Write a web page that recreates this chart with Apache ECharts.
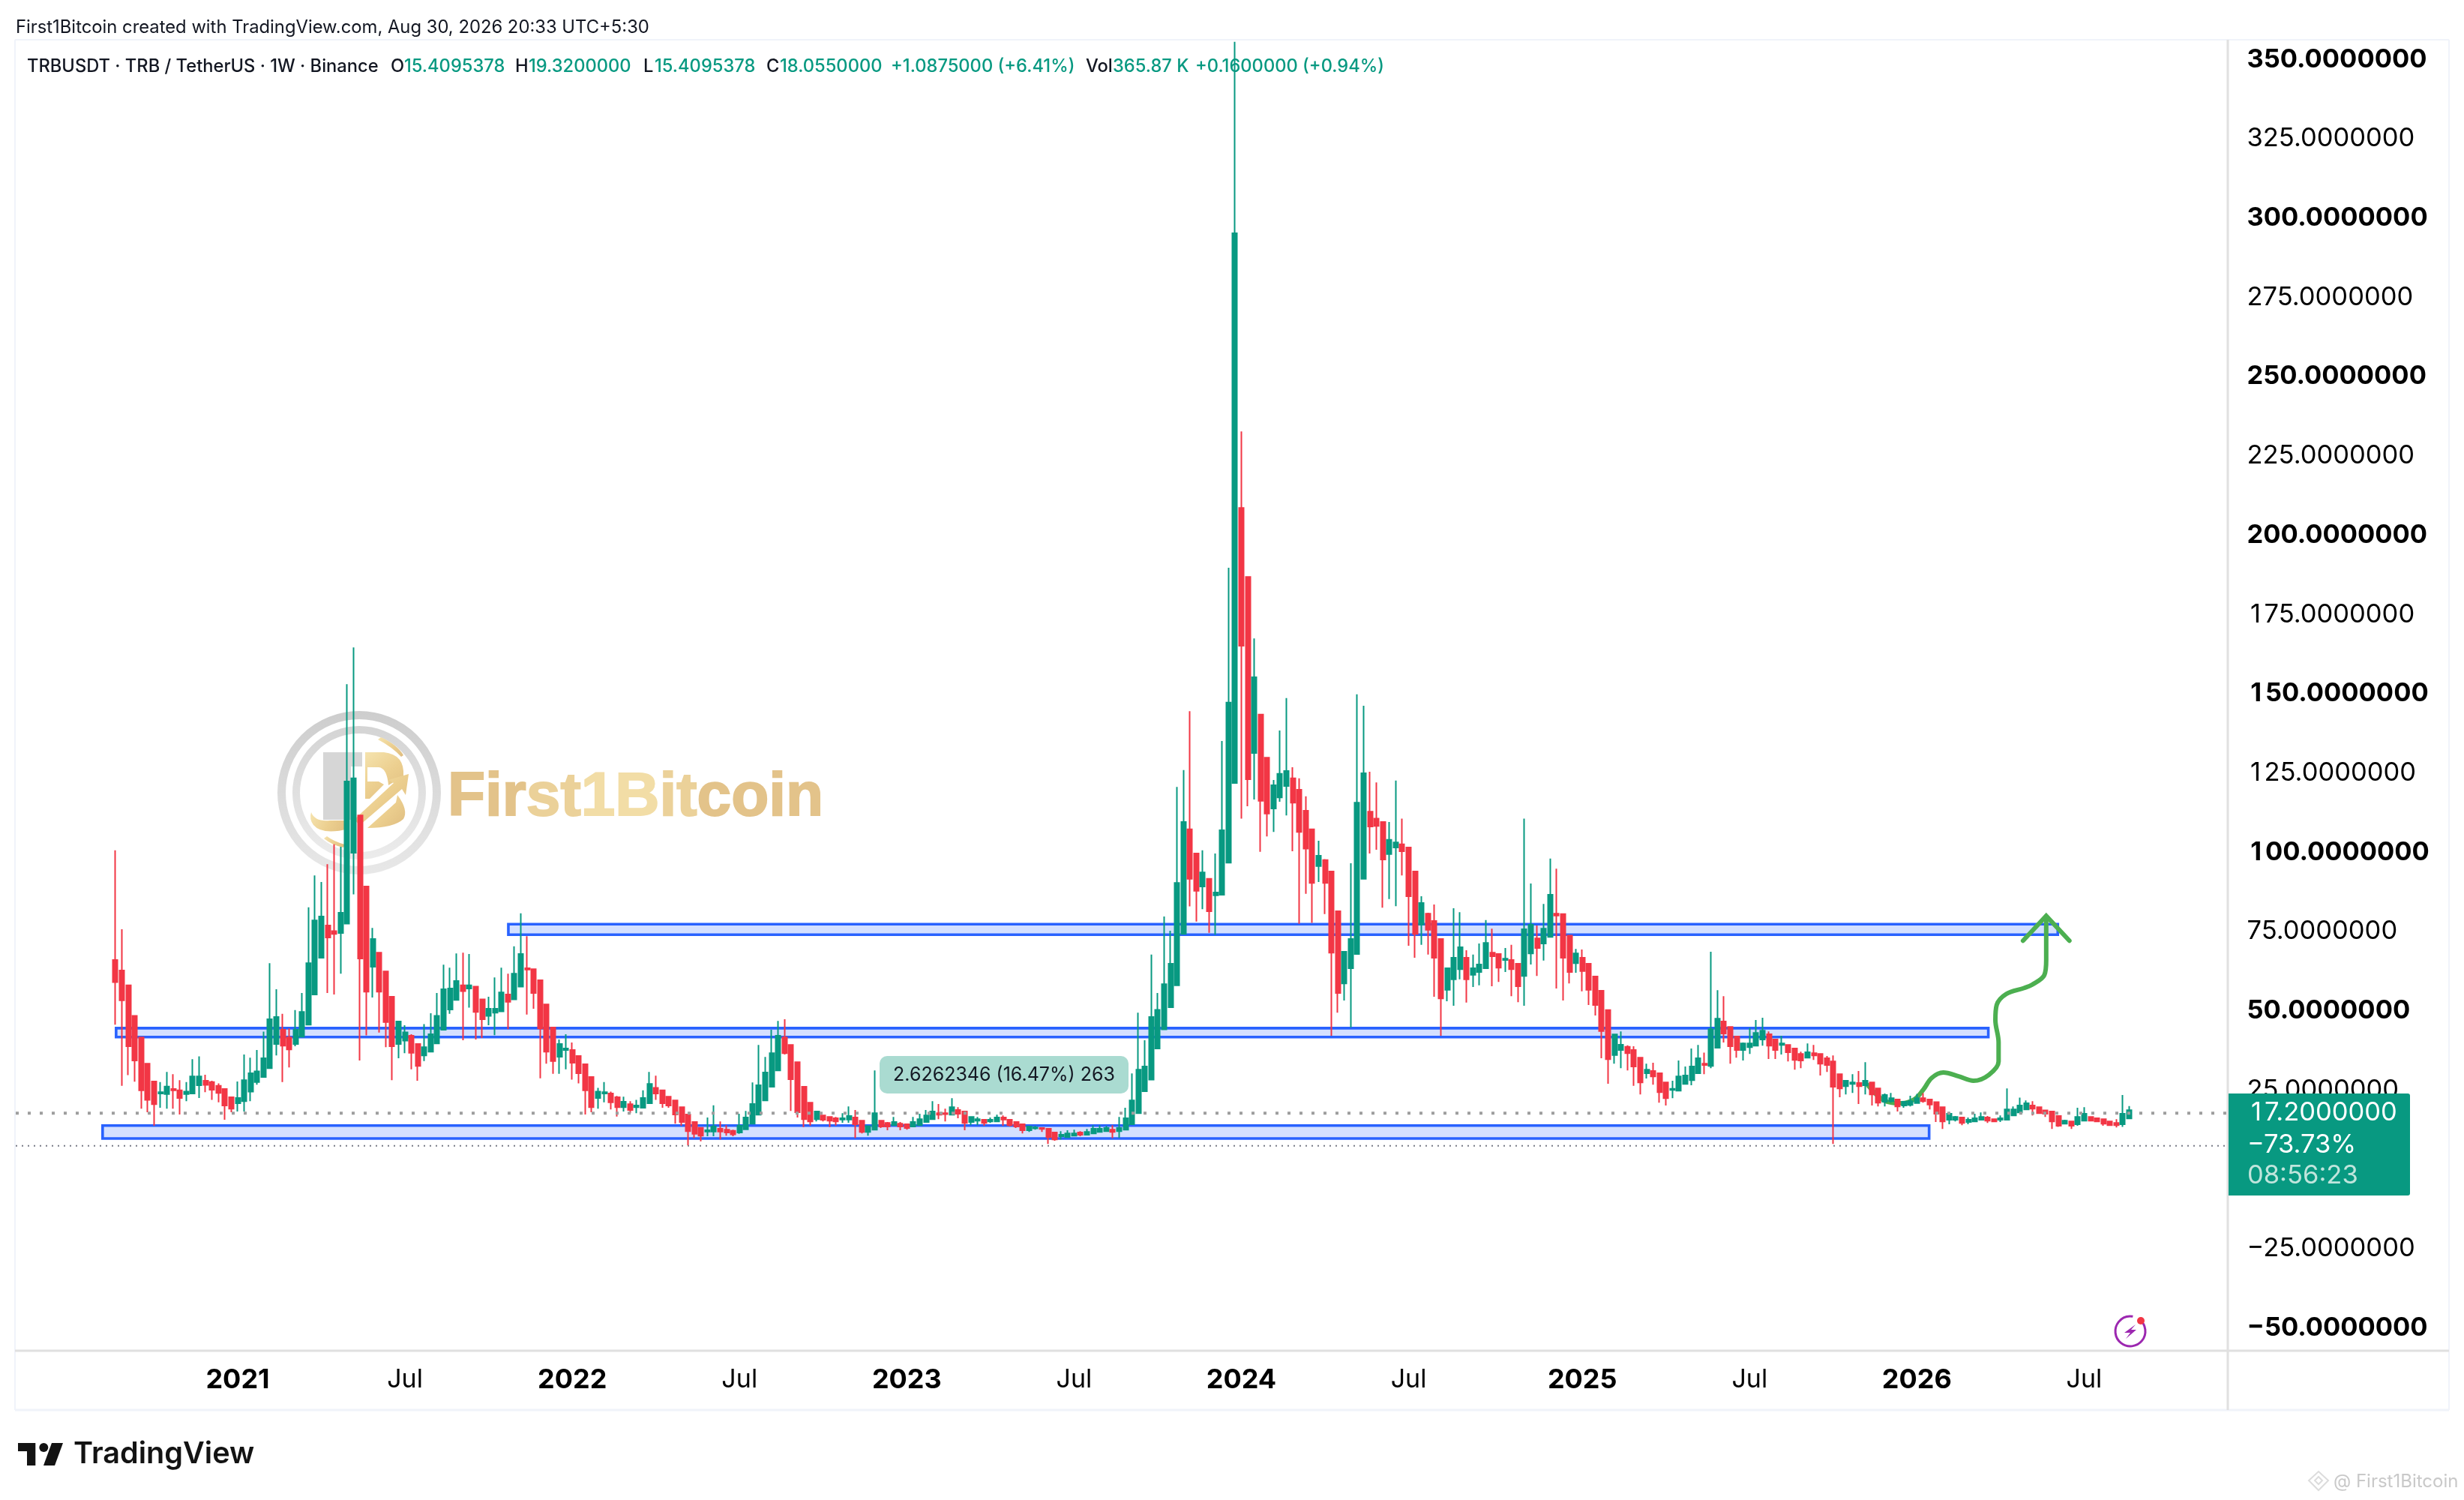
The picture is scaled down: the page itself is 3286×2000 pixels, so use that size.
<!DOCTYPE html>
<html><head><meta charset="utf-8">
<style>html,body{margin:0;padding:0;background:#fff}#c{width:3286px;height:2000px}</style>
<script src="https://cdn.jsdelivr.net/npm/echarts@6/dist/echarts.min.js"></script>
</head><body><div id="c"></div>
<script>
const opens=[65.4,62.1,57.4,47.8,41,32.7,27.1,23.3,23.1,24.7,
24.3,23.1,23.3,25.9,27.3,26.9,25.7,24.7,22.1,20.2,
20.9,23.9,26.9,28.5,31.3,38.9,43.4,41,38.9,41.2,
45,54.5,66.1,76.3,74.5,73.9,76.9,99.2,111,88.6,
63.3,67.7,61.8,53.8,38.9,40,41.5,38.9,35.3,36.5,
39.1,43.4,49.8,52.8,57.4,56.4,57,53,47.8,48.8,
49.2,54.5,53,57,62.8,62.5,59,51.4,44.1,34.9,
37,37,35.1,32.5,28.5,21.9,23.3,23.3,22.1,19,
19.9,19,18.8,20.2,25.1,24.3,22.3,21.1,19,16.7,
14.3,12.5,11.3,11.3,12.2,11.9,11.5,11,12,13.8,
16.6,21.1,25.4,30.6,41,38.6,33.2,25.4,20.4,15.2,
16.4,15.9,15.5,15.1,15.1,15.7,14.7,11.2,11.9,14.7,
14,13.3,13.8,13.6,12.9,13.3,14.3,15.2,17.1,17.1,
16.6,18.1,17.6,14.3,14.7,15,14.5,14.5,15.7,15,
14.3,13.6,11.7,12.3,12.4,12.2,11,9.8,9.5,10,
11,10.3,10.7,11.2,11.4,11.9,11.4,11.9,13.6,17.1,
24,27.7,37.5,43.5,50.5,57.4,73.6,106.6,99,88.6,
91,85.8,86,96.1,121.2,208,186.2,130.7,142.8,129.2,
113.2,116.7,120.3,122.7,119.1,112.5,106.6,95,96.9,93.3,
80.8,58,62.8,67.3,91,112.2,110,108.9,98.8,100.9,
101.9,100.9,93.3,76.6,80,77.7,72,56,59.3,62.5,
66.1,60.7,61.6,62.8,67.7,67.3,65.4,65.4,64.2,60.4,
67.5,72.2,70.6,72.7,80,79.9,73.1,64.4,66.1,64.2,
60.2,55.7,49.6,35.4,37,38,37,34.6,29.7,30.4,
29.7,26.8,24.4,24.2,26.3,27.5,29.7,32.7,32,37.7,
46,44.3,41.3,37,37.9,38.4,40.3,42,40.3,38.6,
38.6,37.5,35.8,34.6,36,35.8,34.4,33.4,29.4,25.6,
26.3,26.6,25.9,26.8,24.9,20.7,20.9,21.4,19.5,19.7,
20.3,21.8,21.4,20.6,19,15,15,15.7,14.3,14.5,
15,15.7,15.2,15,15,16.4,17.3,18.3,19.5,19,
18,17.6,16.2,13.8,14.5,13.6,14.7,15.9,15.5,15.2,
14.5,14,13.6,15.41];
const closes=[58.4,52.7,38.2,33.7,24.3,21.3,19.9,23.7,25.5,24.3,
21.9,23.9,28.7,28.7,26,24.5,23.5,19.5,18.5,21.9,
27.5,29.7,30.3,34.4,46.7,47.4,38.4,37.2,43.4,49,
64.4,77.9,79.1,72.5,73.6,80.3,121.7,122.7,65.9,55.4,
72,55.4,45.8,38.2,46,42.6,36.1,32,37.9,42,
47.8,56.2,56.4,58.8,55.6,57.4,49,46.7,50,50,
55.2,52.2,61.1,67.3,62.4,55,43.8,36.5,33.5,38.9,
37.5,33,29.7,24.3,19,23.9,23.7,20.5,19,20.7,
18.1,19.5,21.9,26.3,23.3,20.2,19.5,16.7,14.3,11.4,
10.6,10,11.7,12.9,11.3,11,10.4,13.1,15.7,20,
25.9,29.9,36,41.5,36,27.8,17.4,15.2,14.5,17.6,
15,14.7,14.5,15.5,16.2,13.6,11.2,13,17.1,12.9,
12.9,14.3,12.9,12.4,14.3,15.2,16.4,17.6,16.6,16.8,
19,16.9,14,15.9,15.2,14,15,15.7,15.1,13.3,
12.9,11.7,12.9,12.6,12.1,9.5,8.8,10.3,10.7,10.7,
10.3,11.2,12.2,12.2,12.4,11.2,12.4,15.5,21.1,30.8,
31.8,47.4,49.7,57.8,64.2,89.7,108.9,91,87.2,93,
80.8,86.7,106.3,146.6,294.6,164.5,122.4,154.6,115.6,111.6,
120.5,124.1,125,115,105.8,100.5,89.7,98.3,89.7,67.7,
55,68,72,115,124.3,107.5,107.7,97.1,103.3,102.5,
99.7,85.5,73.6,83.4,74.9,66.1,53.3,62.8,66.1,69.4,
59.3,62.8,64,70.8,66.6,63,65.8,62.5,57.1,75.1,
76.5,69.2,75.3,86,79.4,66.1,61.6,67.5,61.9,56,
51.2,43,34.1,41.9,38.7,36,31.8,26.8,30.8,28.7,
23.7,21.8,24.8,28.7,29,31.8,34.4,32.3,43.6,46.9,
42.2,38.2,37,39.1,39.1,42.4,43.1,38.4,37,39.1,
36.3,33.9,33.7,36.3,35.3,32.7,32.3,25.4,24.9,27.3,
26.8,25.6,27.3,23,20.4,22.8,21.8,19.2,20.7,20.9,
21.8,20.9,19.8,16.9,14.5,16.9,15.9,14,15,15.5,
15.9,14.7,14.5,15.5,18.3,18.3,19.5,20.2,18.5,17.1,
16.9,14.5,13.1,14.7,13.1,15.9,16.9,14.7,14.5,13.8,
13.3,13.3,16.9,18.06];
const highs=[100,75.1,57.4,47.8,41,32.7,27.1,26.9,30.1,29.4,
27.5,26.9,34.1,35,29.2,27.3,26.5,24.7,22.1,27.1,
35.6,34.6,37,42.8,64.4,56.2,48.4,43.8,49.6,55,
82,92.1,90,95.6,101.9,101.1,152.4,164,111,88.6,
75.5,67.7,61.8,53.8,46,44.8,42,38.9,45.2,48.6,
55,63.9,63,67.5,67.7,67.3,57,53,53.8,59.9,
63,61.1,69.7,80.1,72.9,62.5,59,51.4,44.1,40.3,
42,39.4,35.1,32.5,28.5,25.1,26.9,23.9,22.5,22.3,
20.9,21.3,24.3,30.1,28.9,24.3,22.3,21.1,19,16.7,
14.3,12.5,15.7,19.6,14.5,13.3,11.9,16.9,17.8,26.8,
38.6,34.8,43.4,46.2,46.7,38.6,33.2,25.4,20.4,17.6,
16.4,15.9,15.9,17.1,19.2,18.1,14.7,13,30.6,14.7,
14.3,15.9,14.3,13.6,15.9,16.9,18.1,20.9,20,18.5,
21.8,19,17.6,15.9,15.9,15.2,15.7,16.6,16.4,15,
14.3,13.6,12.9,13.1,12.4,12.2,11,11.4,11.7,11.9,
11.4,12.1,13.3,13.3,13.1,13.3,15.9,18.8,29.6,48.8,
40.1,67.1,55,79.1,74.6,120,125.3,143.9,99,100,
91,99,134.5,189.1,355,232.1,186.2,166.8,142.8,129.2,
122.2,137.8,148,126.2,122.7,117,106.6,103,97.2,93.3,
80.8,68,95.9,149.2,145.6,124.8,121.4,109.1,108.9,122,
110,100.9,93.3,85.5,80.3,82.9,72,62.8,81.7,80.5,
68.5,67.1,70.6,78,75.3,67.3,69.2,70.2,64.2,110,
89.5,76.3,83.1,97.4,94.2,79.9,73.1,68.9,68.7,64.2,
60.2,55.7,49.6,41.9,42.9,38.5,38.2,34.6,32.7,33,
29.7,26.8,27.3,33.7,31.8,37.5,38.6,36.2,68,55.9,
54,44.3,41.3,39.4,44,46.5,47.2,42.9,40.3,41.5,
38.6,37.5,36.5,39.1,38.6,35.8,35.1,35.3,29.4,27.5,
29.4,30.4,33.2,27,24.9,23.3,23.5,21.4,20.9,22.6,
23.2,23.4,21.4,20.6,19,16.9,16.2,15.7,15.7,16.9,
17.3,16.2,15.2,16.4,24.9,19.2,22,21.1,20.9,19,
18,17.6,16.2,15,14.5,18.8,19,15.9,15.5,15.2,
14.5,15.2,22.8,19.32];
const lows=[45,25.7,29.1,27,18.5,17.4,13.1,18.8,18.5,18.5,
16.7,20.9,23.3,21.9,23.7,21.3,20.5,15,17.4,17.6,
17.6,20.9,26.1,28.5,31.3,35.3,26.9,31.5,38.2,41.2,
45,54.5,66.1,55,54.5,61.1,76.9,86.1,33.7,41.6,
53.6,42.5,37.9,27.5,34.4,36,30.9,27.3,33.5,36.5,
39.1,43.4,48.4,52.8,40.1,50.4,40.3,40.8,44.8,41.7,
49.2,43.6,53,57,48.2,50,28.1,32.7,29.5,29.5,
30.9,27.7,26.5,16.7,17.4,18.5,20.5,18.3,16,17.6,
17.1,17.1,18.8,20.2,21.3,18.8,18.8,13.8,13.1,6.9,
9.2,8.2,9.8,9.8,8.8,10,9.8,10.6,12,13.8,
16.6,21.1,25.4,30.6,35.6,17.8,15.7,12.7,13.2,14.5,
14.5,12.7,13.2,14.1,14.1,9.2,10.7,10,11.9,12.4,
11.7,13.3,11.7,11.9,12.9,13.3,14.3,15.2,15.2,14.5,
16.6,15.5,11.7,13.3,13.3,13.1,14,14.5,13.1,12.9,
12.4,10.7,11.2,11.9,11.2,7.4,8.4,8.8,9.5,10,
9.8,10.3,10.7,11.2,11.2,9.2,9.3,11.9,13.6,17.1,
24,27.7,37.5,43.5,50.5,57.4,73.6,82.3,77.5,81.4,
74,73.3,86,96.1,121.2,110,113.9,116,99.5,104.4,
105.8,115.3,111,99.7,76.8,86.3,77.1,90,79.9,41.5,
48.8,52.6,44.1,67.3,91,99,100.2,81.9,84.6,82.4,
92.1,69.9,66.1,70.2,67.1,53.8,41.5,52.4,51,59.3,
52,56.9,57.4,62.8,57.1,58.5,61.6,54,52.1,51,
64,60.4,65.2,72.5,56.4,52.6,58,61.4,55.5,51.2,
47.9,34.4,26.4,32.7,31.3,30.6,25.7,23,28,26.1,
20.4,19.5,21.8,24.2,26.3,25.9,29.7,29.4,31.3,37.7,
39.4,32.7,34.6,33.7,35.8,38.4,38.4,34.2,34.2,35.6,
33.4,30.8,31.3,34.6,33.9,29,30.1,7.4,22.1,23,
23.5,20,23,19.5,19.2,19.2,20.4,17.6,18.8,19.2,
20.3,20.4,18.3,14.3,12.1,13.6,14.5,13.3,13.6,14.5,
15,14,14.3,14.3,15,16.4,17.1,18.3,16.4,16.9,
15.9,12.1,12.8,13.6,12.1,13.1,14.5,14.5,14.3,13.1,
13.1,12.6,12.8,15.41];
const tickWeeks=[19,45,71,97,123,149,175,201,228,254,280,306];
const tickLabels=['2021','Jul','2022','Jul','2023','Jul','2024','Jul','2025','Jul','2026','Jul'];
const priceTicks=[350,325,300,275,250,225,200,175,150,125,100,75,50,25,0,-25,-50];
const zoneBoxes=[[61.07,301.9,76.7,73.4],[0.1,291.1,43.9,41.1],[-2,281.9,13.2,9.1]];
const pathWeeks=[272.4,274.9,277.6,279.7,281,282.3,284.1,286.5,288.8,291.2,292.7,292.7,292.2,292.4,293.9,296.7,297.9,299.8,300.1,300.1];
const pathPrices=[25.9,21.1,20.2,21.6,24.5,28.2,29.9,28.7,27.3,29.2,33.4,39.4,46.5,51.2,54.7,56.6,57.6,60.6,65.4,79.1];
const headWeeks=[296.5,300.1,303.7];
const headPrices=[71.5,79.3,71.5];
const lastPrice=17.1, lowLevel=6.8;

const PAD_LEFT=15, BAND_COUNT=344;
const F='Inter';
const GREEN='#089981', RED='#f23645';
const categories=Array.from({length:BAND_COUNT},(_,i)=>String(i-PAD_LEFT));
const candleRows=opens.map((o,i)=>[i+PAD_LEFT,o,closes[i],lows[i],highs[i]]);

let shapeId=0;
const pathEl=(d,style,z)=>{const name='wmShape'+(shapeId++);echarts.graphic.registerShape(name,echarts.graphic.extendPath(d,{}));
  return {type:name,silent:true,z:z||0,style};};
const line=(x1,y1,x2,y2,c,w,z)=>({type:'line',silent:true,z:z||1,shape:{x1,y1,x2,y2},style:{stroke:c,lineWidth:w}});
const txt=(x,y,t,fill,font,extra)=>({type:'text',silent:true,z:50,x,y,style:Object.assign({text:t,fill,font,textVerticalAlign:'middle'},extra||{})});
const LF='500 23.7px '+F;
const gold={type:'linear',x:0,y:0,x2:1,y2:1,colorStops:[{offset:0,color:'#f5e3ae'},{offset:.5,color:'#eccf8f'},{offset:1,color:'#dfbd80'}]};
const ringA={type:'linear',x:0,y:0,x2:0,y2:1,colorStops:[{offset:0,color:'#cdcdcd'},{offset:1,color:'#e8e8e8'}]};
const ringB={type:'linear',x:0,y:0,x2:0,y2:1,colorStops:[{offset:0,color:'#d4d4d4'},{offset:1,color:'#ececec'}]};
const wm=(d)=>pathEl(d,{fill:gold},0);
const wmFont='bold 82px "Liberation Sans"';
const wmTok=c=>({font:wmFont,fill:c,stroke:c,lineWidth:2});

const graphics=[
 line(20,53,3266,53,'#f0f3fa',2),line(20,53,20,1880,'#f0f3fa',2),line(20,1880,3266,1880,'#f0f3fa',3),line(3266,53,3266,1880,'#f0f3fa',2),
 line(20,1801,3266,1801,'#e0e0e0',3),line(2971,53,2971,1880,'#e0e0e0',3),
 {type:'circle',silent:true,z:0,shape:{cx:479,cy:1057,r:103.5},style:{fill:'none',stroke:ringA,lineWidth:11}},
 {type:'circle',silent:true,z:0,shape:{cx:479,cy:1057,r:84},style:{fill:'none',stroke:ringB,lineWidth:10}},
 pathEl('M431 1003H483V1022H468V1093H431Z',{fill:'#d6d6d6'},0),
 wm('M487 1003H512Q540 1006 538 1035L518 1047Q516 1024 505 1023H490V1042H505L512 1046L493 1065H487Z'),
 wm('M545 1032L541 1060L536 1052L480 1100L472 1093L525 1044L518 1040Z'),
 wm('M530 1060Q545 1080 538 1092Q525 1104 490 1104L528 1070Z'),
 wm('M415 1083Q420 1096 440 1094H465V1105Q430 1114 418 1100Q412 1092 415 1083Z'),
 wm('M504 986L508 983Q530 993 538 1007L535 1009Q523 996 504 986Z'),
 wm('M432 1118L436 1115Q445 1122 460 1126L458 1130Q443 1127 432 1118Z'),
 {type:'text',silent:true,z:0,x:597,y:1064,style:{text:'{a|Fir}{b|st}{c|1B}{b|it}{a|coin}',font:wmFont,textVerticalAlign:'middle',
   rich:{a:wmTok('#e3c38a'),b:wmTok('#ebd199'),c:wmTok('#f2dda6')}}},
 txt(21,37,'First1Bitcoin created with TradingView.com, Aug 30, 2026 20:33 UTC+5:30','#131722','400 23.8px '+F),
 txt(36,89,'TRBUSDT · TRB / TetherUS · 1W · Binance','#131722',LF),
 txt(521,89,'O','#131722',LF),txt(539,89,'15.4095378',GREEN,LF),
 txt(687,89,'H','#131722',LF),txt(705,89,'19.3200000',GREEN,LF),
 txt(858,89,'L','#131722',LF),txt(873,89,'15.4095378',GREEN,LF),
 txt(1022,89,'C','#131722',LF),txt(1040,89,'18.0550000',GREEN,LF),
 txt(1188,89,'+1.0875000 (+6.41%)',GREEN,LF),
 txt(1448,89,'Vol','#131722',LF),txt(1484,89,'365.87 K',GREEN,LF),
 txt(1594,89,'+0.1600000 (+0.94%)',GREEN,LF),
 {type:'rect',silent:true,z:50,shape:{x:1173,y:1408,width:332,height:50,r:10},style:{fill:'#aadbd1'}},
 txt(1339,1433,'2.6262346 (16.47%) 263','#131722','400 25px '+F,{textAlign:'center'}),
 {type:'rect',silent:true,z:60,shape:{x:2972,y:1458,width:242,height:136,r:[0,3,3,0]},style:{fill:GREEN}},
 Object.assign(txt(3009,1484,'1','#ffffff','400 34.5px '+F,{textAlign:'center'}),{z:61}),
 Object.assign(txt(3020,1484,'7.2000000','#ffffff','400 34.5px '+F),{z:61}),
 Object.assign(txt(2997,1527,'\u221273.73%','#ffffff','400 34.5px '+F),{z:61}),
 Object.assign(txt(2997,1568,'08:56:23','#bfe5dc','400 34.5px '+F),{z:61}),
 {type:'arc',silent:true,z:50,shape:{cx:2841,cy:1775,r:20,startAngle:-0.9,endAngle:-1.4,clockwise:true},style:{fill:'none',stroke:'#9c27b0',lineWidth:3}},
 {type:'polygon',silent:true,z:50,shape:{points:[[2848,1766],[2833,1777],[2841,1777],[2835,1785],[2849,1773],[2842,1773]]},style:{fill:'#9c27b0'}},
 {type:'circle',silent:true,z:51,shape:{cx:2855,cy:1761,r:5},style:{fill:RED}},
 pathEl('M24 1924H47.3V1954H36V1935H24Z',{fill:'#131313'},50),
 {type:'circle',silent:true,z:50,shape:{cx:58.3,cy:1930,r:6},style:{fill:'#131313'}},
 {type:'polygon',silent:true,z:50,shape:{points:[[69,1924],[84,1924],[73,1954],[58,1954]]},style:{fill:'#131313'}},
 txt(98,1939,'TradingView','#131313','600 39.6px '+F),
 {type:'polygon',silent:true,z:50,shape:{points:[[3092,1962],[3105,1974],[3092,1987],[3079,1974]]},style:{fill:'none',stroke:'#dcdcdc',lineWidth:2}},
 {type:'polygon',silent:true,z:50,shape:{points:[[3092,1969],[3097,1974],[3092,1979],[3087,1974]]},style:{fill:'none',stroke:'#dcdcdc',lineWidth:2}},
 txt(3112,1976,'@ First1Bitcoin','#c9c9c9','400 24px '+F)
];

const yBase=w=>({fontFamily:F,fontWeight:w,fontSize:34.5,color:'#000',padding:[5,0,0,0]});
const chart=echarts.init(document.getElementById('c'),null,{renderer:'canvas',width:3286,height:2000});
chart.setOption({
 animation:false,backgroundColor:'#ffffff',
 grid:{left:21,top:54,width:2951.5,height:1746,containLabel:false},
 tooltip:{show:false},
 xAxis:[
  {type:'category',data:categories,boundaryGap:true,axisLine:{show:false},axisTick:{show:false},splitLine:{show:false},
   axisLabel:{interval:0,margin:20,hideOverlap:false,showMinLabel:true,showMaxLabel:true,
    formatter:(v,i)=>{const k=tickWeeks.indexOf(i-PAD_LEFT);if(k<0)return '';const t=tickLabels[k];return /\d/.test(t)?'{b|'+t+'}':'{r|'+t+'}';},
    rich:{b:{fontFamily:F,fontWeight:700,fontSize:36,lineHeight:40,color:'#000'},r:{fontFamily:F,fontWeight:400,fontSize:34,lineHeight:40,color:'#000'}}}},
  {type:'value',min:-PAD_LEFT-0.5,max:BAND_COUNT-PAD_LEFT-0.5,show:false,splitLine:{show:false}}
 ],
 yAxis:{type:'value',position:'right',min:-57.6,max:355.4,scale:false,axisLine:{show:false},axisTick:{show:false},splitLine:{show:false},
  axisLabel:{margin:24,customValues:priceTicks,
   formatter:v=>{const s=(v<0?'\u2212':'')+Math.abs(v).toFixed(7);const bold=Math.abs(v)%50===0;
     const lead=s[0]==='1'?('{'+(bold?'b1':'r1')+'|1}'):'';const rest=s[0]==='1'?s.slice(1):s;
     return lead+'{'+(bold?'b':'r')+'|'+rest+'}';},
   rich:{b:yBase(700),r:yBase(400),
    b1:Object.assign(yBase(700),{width:24.5,align:'center'}),r1:Object.assign(yBase(400),{width:23,align:'center'})}}},
 graphic:{elements:graphics},
 series:[
  {type:'custom',xAxisIndex:1,yAxisIndex:0,z:1,silent:true,clip:false,data:zoneBoxes,encode:{x:[0,1],y:[2,3]},
   renderItem:(p,api)=>{const a=api.coord([api.value(0),api.value(2)]),b=api.coord([api.value(1),api.value(3)]);
    return {type:'rect',shape:{x:a[0],y:a[1],width:b[0]-a[0],height:b[1]-a[1]},style:{fill:'rgba(41,98,255,0.2)',stroke:'#2962ff',lineWidth:3.6}};}},
  {type:'line',xAxisIndex:1,z:1.5,silent:true,symbol:'none',smooth:0.35,data:pathWeeks.map((x,i)=>[x,pathPrices[i]]),lineStyle:{color:'#4caf50',width:6,cap:'round',join:'round'}},
  {type:'line',xAxisIndex:1,z:1.5,silent:true,symbol:'none',data:headWeeks.map((x,i)=>[x,headPrices[i]]),lineStyle:{color:'#4caf50',width:6,cap:'round',join:'miter'}},
  {type:'candlestick',xAxisIndex:0,z:3,silent:true,barWidth:6.5,clip:false,data:candleRows,encode:{x:0,y:[1,2,3,4]},
   itemStyle:{color:GREEN,color0:RED,borderColor:GREEN,borderColor0:RED,borderWidth:2}},
  {type:'line',xAxisIndex:1,z:4,silent:true,symbol:'none',data:[[-PAD_LEFT-0.5,lastPrice],[328.2,lastPrice]],lineStyle:{color:'#9e9e9e',width:4,type:[4,12]}},
  {type:'line',xAxisIndex:1,z:4,silent:true,symbol:'none',data:[[-PAD_LEFT-0.5,lowLevel],[328.2,lowLevel]],lineStyle:{color:'#787b86',width:2,type:[2,6]}}
 ]
});
</script></body></html>
